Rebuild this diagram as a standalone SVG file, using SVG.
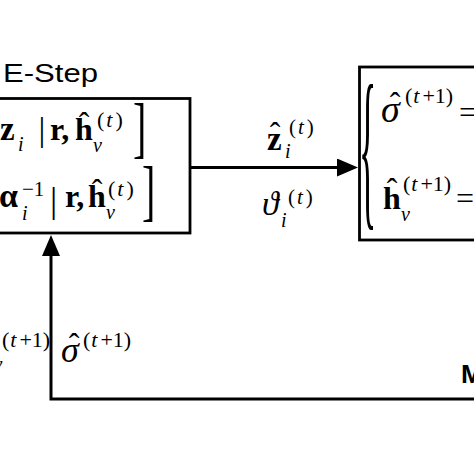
<svg xmlns="http://www.w3.org/2000/svg" width="474" height="474" viewBox="0 0 474 474">
<style>
.s{font-family:"Liberation Serif","Times New Roman",serif;fill:#000}
.sb{font-family:"Liberation Serif","Times New Roman",serif;font-weight:bold;fill:#000}
.si{font-family:"Liberation Serif","Times New Roman",serif;font-style:italic;fill:#000}
.i{font-style:italic}
.sans{font-family:"Liberation Sans",Arial,sans-serif;fill:#000}
.sansb{font-family:"Liberation Sans",Arial,sans-serif;font-weight:bold;fill:#000}
.box{fill:none;stroke:#000;stroke-width:2.8}
.conn{fill:none;stroke:#000;stroke-width:3}
</style>
<defs>
<marker id="ah" markerWidth="22" markerHeight="18" refX="0" refY="9" orient="auto" markerUnits="userSpaceOnUse">
<path d="M0,0 L21,9 L0,18 z" fill="#000"/>
</marker>
</defs>
<rect width="474" height="474" fill="#fff"/>

<g id="e-step">
<text class="sans" x="3" y="82" font-size="26.5" textLength="95" lengthAdjust="spacingAndGlyphs">E-Step</text>
<rect class="box" x="-10" y="98.5" width="200" height="134.5"/>
<text class="sb" x="0" y="140" font-size="33">z</text>
<text class="si" x="18" y="151" font-size="20">i</text>
<text class="s" x="38.5" y="141" font-size="34">|</text>
<text class="sb" x="50" y="140" font-size="32">r,</text>
<text class="sb" x="75" y="140" font-size="32">h</text>
<text class="s" x="84" y="134" font-size="32" text-anchor="middle">ˆ</text>
<text class="si" x="93" y="152" font-size="20">v</text>
<text class="s" x="97" y="127" font-size="22">(<tspan class="i" dx="2">t</tspan><tspan dx="3">)</tspan></text>
<text class="s" font-size="40" transform="translate(133,149.5) scale(1,1.68)">]</text>

<text class="sb" x="-1" y="207" font-size="34">α</text>
<text class="s" x="22" y="196" font-size="21">−1</text>
<text class="si" x="22" y="220" font-size="20">i</text>
<text class="s" x="50" y="212" font-size="36">|</text>
<text class="sb" x="65" y="207" font-size="32">r,</text>
<text class="sb" x="88" y="207" font-size="32">h</text>
<text class="s" x="97" y="201" font-size="32" text-anchor="middle">ˆ</text>
<text class="si" x="106" y="219" font-size="20">v</text>
<text class="s" x="108" y="196" font-size="22">(<tspan class="i" dx="2">t</tspan><tspan dx="3">)</tspan></text>
<text class="s" font-size="40" transform="translate(142,212.5) scale(1,1.68)">]</text>
</g>

<g id="m-step">
<rect class="box" x="359.5" y="67" width="200" height="173"/>
<text class="s" font-size="36" transform="translate(359,206) scale(1,4.9)">{</text>
<text class="si" x="381" y="122" font-size="38">σ</text>
<text class="s" x="395" y="114" font-size="32" text-anchor="middle">ˆ</text>
<text class="s" x="405" y="103" font-size="22">(<tspan class="i" dx="1">t</tspan><tspan dx="3">+1)</tspan></text>
<text class="s" x="459" y="123" font-size="32">=</text>
<text class="sb" x="383" y="209" font-size="32">h</text>
<text class="s" x="392" y="200" font-size="32" text-anchor="middle">ˆ</text>
<text class="si" x="401" y="221" font-size="20">v</text>
<text class="s" x="403" y="191" font-size="22">(<tspan class="i" dx="1">t</tspan><tspan dx="3">+1)</tspan></text>
<text class="s" x="456" y="209" font-size="32">=</text>
<text class="sansb" x="461" y="383" font-size="26.5">M</text>
</g>

<g id="connectors">
<line class="conn" x1="190" y1="167.5" x2="337" y2="167.5" marker-end="url(#ah)"/>
<path class="conn" d="M480,399 H51 V256" marker-end="url(#ah)"/>
</g>

<g id="labels">
<text class="sb" x="267" y="150" font-size="33">z</text>
<text class="s" x="275" y="144" font-size="32" text-anchor="middle">ˆ</text>
<text class="si" x="285" y="158" font-size="20">i</text>
<text class="s" x="289" y="134" font-size="21">(<tspan class="i" dx="2">t</tspan><tspan dx="3">)</tspan></text>
<text class="si" x="262" y="215" font-size="34">ϑ</text>
<text class="si" x="281" y="227" font-size="20">i</text>
<text class="s" x="288" y="204" font-size="21">(<tspan class="i" dx="2">t</tspan><tspan dx="3">)</tspan></text>

<text class="si" x="-7" y="371" font-size="21">v</text>
<text class="s" x="2" y="347" font-size="22">(<tspan class="i" dx="1">t</tspan><tspan dx="3">+1)</tspan></text>
<text class="si" x="61" y="362" font-size="36">σ</text>
<text class="s" x="74" y="355" font-size="32" text-anchor="middle">ˆ</text>
<text class="s" x="83" y="347" font-size="22">(<tspan class="i" dx="1">t</tspan><tspan dx="3">+1)</tspan></text>
</g>
</svg>
